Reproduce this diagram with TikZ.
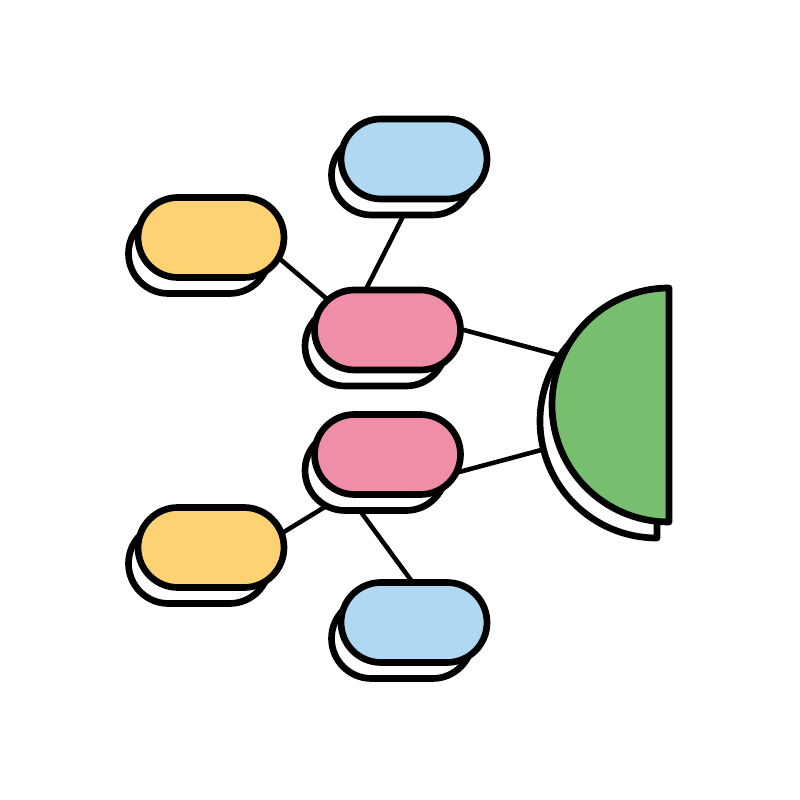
\documentclass[tikz,border=0pt]{standalone}
\usepackage{tikz}

\definecolor{bleu}{HTML}{B1D8F3}
\definecolor{jaune}{HTML}{FCD272}
\definecolor{rose}{HTML}{EF8EA6}
\definecolor{vert}{HTML}{78BE6F}

\pgfdeclarelayer{fond}
\pgfsetlayers{fond,main}

\begin{document}
\begin{tikzpicture}[
	line width=1.9pt, line join=round,
	pill/.style={draw, rounded corners=0.4cm, minimum width=1.46cm, minimum height=0.8cm, inner sep=0pt},
	ombre/.style={pill, fill=white, minimum width=1.41cm},
	lien/.style={line width=1.3pt, shorten <=-6pt, shorten >=-6pt}
]

	\useasboundingbox (0, 0) rectangle (8, 8);

	\def\dx{-0.12} % Decalage de l'ombre en x
	
	\def\dy{-0.16} % Decalage de l'ombre en y
	
	\def\r{1.17} % Rayon du demi-disque
	
	% demi-disque
	\coordinate (centre) at (6.69, 3.95);
	\coordinate (centreo) at (6.69+\dx, 3.95+\dy);
	\draw[fill=white] (6.69+\dx, 3.95+\dy+\r) arc (90:270:\r) -- cycle;
	\draw[fill=vert] (6.69, 3.95+\r) arc (90:270:\r) -- cycle;
	\path (centre) ++(155:\r-0.05) coordinate (vh);
	\path (centreo) ++(194:\r-0.05) coordinate (vb);
	
	% bulles et leurs ombres
	\foreach \nom/\x/\y/\c in {bh/4.14/6.41/bleu, jh/2.11/5.625/jaune, rh/3.875/4.70/rose, rb/3.875/3.455/rose, jb/2.11/2.525/jaune, bb/4.14/1.775/bleu} {
		\node[ombre] (\nom o) at (\x+\dx, \y+\dy) {};
		\node[pill, fill=\c] (\nom) at (\x, \y) {};
	}
	
	% liens
	\begin{pgfonlayer}{fond}
		\draw[lien] (jh.-20) -- (rh.150);
		\draw[lien] (bho.south) -- (rh.115);
		\draw[lien] (rh.east) -- (vh);
		\draw[lien] (rb.-12) -- (vb);
		\draw[lien] (jb.13) -- (rbo.215);
		\draw[lien] (rbo.253) -- (bb.95);
	\end{pgfonlayer}

\end{tikzpicture}
\end{document}
